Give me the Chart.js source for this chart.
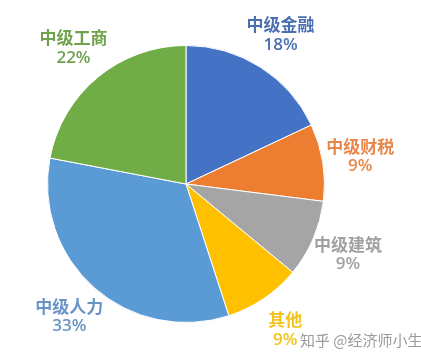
<!DOCTYPE html>
<html>
<head>
<meta charset="utf-8">
<script src="https://cdn.jsdelivr.net/npm/chart.js@4"></script>
<style>
  html, body { margin: 0; padding: 0; background: #fff; }
  #wrap { width: 421px; height: 360px; position: relative; }
</style>
</head>
<body>
<div id="wrap"><canvas id="pieChart"></canvas></div>
<script>
var categories = ['中级金融', '中级财税', '中级建筑', '其他', '中级人力', '中级工商'];
var shares = [18, 9, 9, 9, 33, 22];
var sliceColors = ['#4472C4', '#ED7D31', '#A5A5A5', '#FFC000', '#5B9BD5', '#70AD47'];
var labelColors = ['#4A6FB0', '#E9864A', '#A0A0A0', '#F2C21E', '#6894C6', '#6FA24C'];
var watermark = '知乎 @经济师小生';

var outsideLabels = {
  id: 'outsideLabels',
  afterDatasetsDraw: function (chart) {
    var ctx = chart.ctx;
    var meta = chart.getDatasetMeta(0);
    ctx.save();
    ctx.textAlign = 'center';
    ctx.textBaseline = 'middle';
    meta.data.forEach(function (arc, i) {
      var p = arc.getProps(['x', 'y', 'startAngle', 'endAngle', 'outerRadius'], true);
      var mid = (p.startAngle + p.endAngle) / 2;
      var d = p.outerRadius + 38;
      var x = p.x + Math.cos(mid) * d;
      var y = p.y + Math.sin(mid) * d;
      ctx.fillStyle = labelColors[i];
      ctx.font = 'bold 17px "Noto Sans CJK SC", sans-serif';
      ctx.fillText(categories[i], x, y - 10);
      ctx.font = '600 17px "Open Sans", "Noto Sans", sans-serif';
      ctx.fillText(shares[i] + '%', x, y + 10);
    });
    ctx.fillStyle = '#9a9a9a';
    ctx.font = '15px "Noto Sans CJK SC", sans-serif';
    ctx.textAlign = 'left';
    ctx.fillText(watermark, 300, 340);
    ctx.restore();
  }
};

new Chart(document.getElementById('pieChart').getContext('2d'), {
  type: 'pie',
  data: {
    labels: categories,
    datasets: [{
      data: shares,
      backgroundColor: sliceColors,
      borderColor: '#ffffff',
      borderWidth: 1
    }]
  },
  options: {
    responsive: true,
    maintainAspectRatio: false,
    animation: false,
    layout: { padding: { top: 45, bottom: 37, left: 47, right: 96 } },
    plugins: {
      legend: { display: false },
      tooltip: { enabled: false }
    }
  },
  plugins: [outsideLabels]
});
</script>
</body>
</html>
